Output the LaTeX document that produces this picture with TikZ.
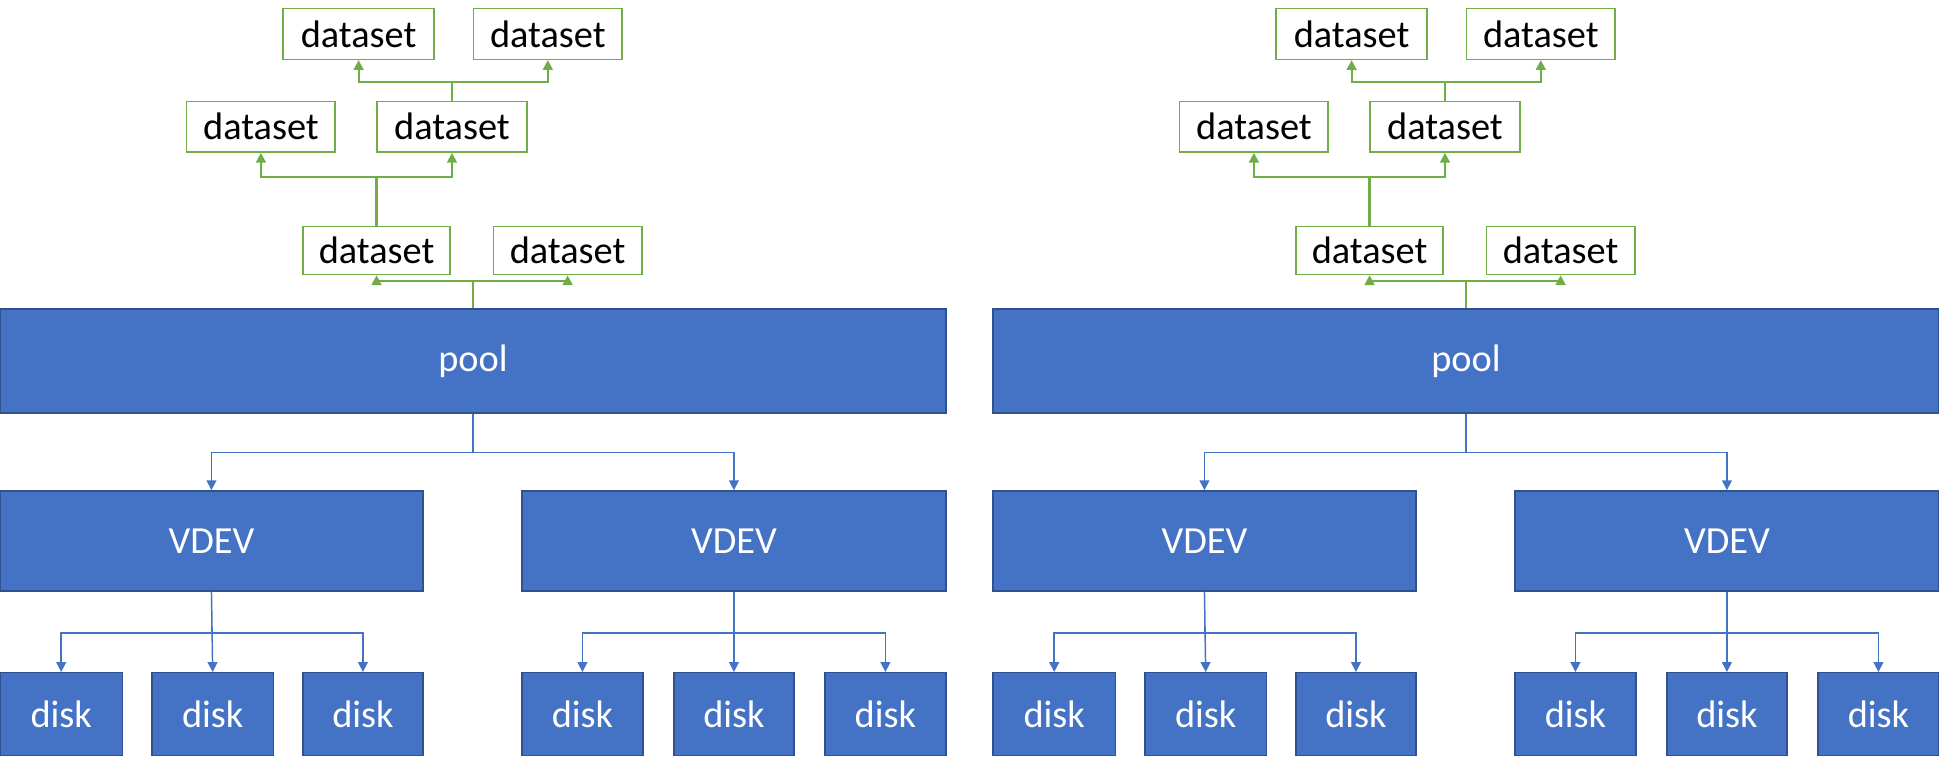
\documentclass[tikz,border=0pt]{standalone}
\usepackage{fontspec}
\setmainfont{Carlito}
\usetikzlibrary{arrows.meta}
\definecolor{bfill}{HTML}{4472C4}
\definecolor{bdraw}{HTML}{2F528F}
\definecolor{gr}{HTML}{70AD47}
\begin{document}
\begin{tikzpicture}[x=0.5pt,y=-0.5pt,
 blk/.style={fill=bfill,draw=bdraw,line width=0.6pt,text=white,font=\fontsize{15.5}{18}\selectfont,inner sep=0},
 ds/.style={fill=white,draw=gr,line width=0.6pt,font=\fontsize{15.5}{18}\selectfont,inner sep=0},
 bl/.style={draw=bfill,line width=0.6pt,-{Triangle[length=4pt,width=4pt]}},
 gl/.style={draw=gr,line width=0.9pt,-{Triangle[length=4pt,width=4pt]}}]
\useasboundingbox (0,0) rectangle (1568,615);
\newcommand\mkbox[7]{\node[#1,minimum width={((#4)-(#3))*0.5pt},minimum height={((#6)-(#5))*0.5pt}] (#2) at ({((#3)+(#4))/2},{((#5)+(#6))/2}) {#7};}
\foreach \o/\s in {0/L,803/R}{
 \mkbox{blk}{pool\s}{\o}{\o+765}{250}{334}{pool}
 \mkbox{blk}{va\s}{\o}{\o+342}{397}{478}{VDEV}
 \mkbox{blk}{vb\s}{\o+422}{\o+765}{397}{478}{VDEV}
 \mkbox{blk}{d1\s}{\o}{\o+99}{544}{611}{disk}
 \mkbox{blk}{d2\s}{\o+123}{\o+221}{544}{611}{disk}
 \mkbox{blk}{d3\s}{\o+245}{\o+342}{544}{611}{disk}
 \mkbox{blk}{d4\s}{\o+422}{\o+520}{544}{611}{disk}
 \mkbox{blk}{d5\s}{\o+545}{\o+642}{544}{611}{disk}
 \mkbox{blk}{d6\s}{\o+667}{\o+765}{544}{611}{disk}
 \mkbox{ds}{a1\s}{\o+245}{\o+364}{183}{222}{dataset}
 \mkbox{ds}{a2\s}{\o+399}{\o+519}{183}{222}{dataset}
 \mkbox{ds}{b1\s}{\o+151}{\o+271}{82}{123}{dataset}
 \mkbox{ds}{b2\s}{\o+305}{\o+426}{82}{123}{dataset}
 \mkbox{ds}{c1\s}{\o+229}{\o+351}{7}{48}{dataset}
 \mkbox{ds}{c2\s}{\o+383}{\o+503}{7}{48}{dataset}
 % blue
 \draw[bl] (pool\s.south) |- (\o+300,366) -| (va\s.north);
 \draw[bl] (pool\s.south) |- (\o+500,366) -| (vb\s.north);
 \draw[bl] (va\s.south) |- (\o+100,512) -| (d1\s.north);
 \draw[bl] (va\s.south) -- (d2\s.north);
 \draw[bl] (va\s.south) |- (\o+250,512) -| (d3\s.north);
 \draw[bl] (vb\s.south) |- (\o+520,512) -| (d4\s.north);
 \draw[bl] (vb\s.south) -- (d5\s.north);
 \draw[bl] (vb\s.south) |- (\o+680,512) -| (d6\s.north);
 % green
 \draw[gl] (pool\s.north) |- (\o+340,227) -| (a1\s.south);
 \draw[gl] (pool\s.north) |- (\o+420,227) -| (a2\s.south);
 \draw[gl] (a1\s.north) |- (\o+250,143) -| (b1\s.south);
 \draw[gl] (a1\s.north) |- (\o+340,143) -| (b2\s.south);
 \draw[gl] (b2\s.north) |- (\o+320,66) -| (c1\s.south);
 \draw[gl] (b2\s.north) |- (\o+420,66) -| (c2\s.south);
}
\end{tikzpicture}
\end{document}
